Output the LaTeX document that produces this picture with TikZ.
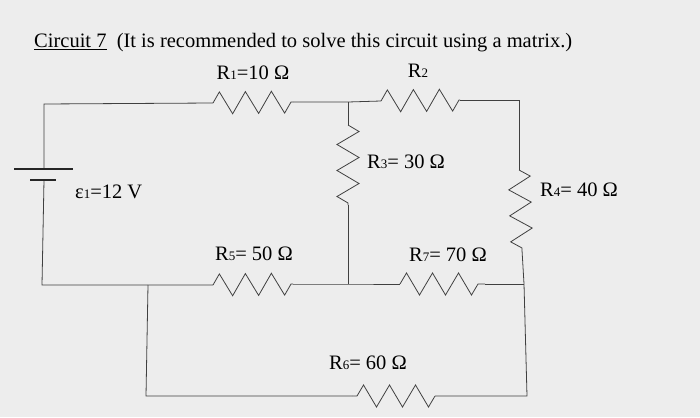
\documentclass[tikz,border=0pt]{standalone}
\usepackage{fontspec}
\setmainfont{Liberation Serif}
\usetikzlibrary{decorations.pathmorphing}
\begin{document}
\begin{tikzpicture}[x=1pt,y=-1pt,
  wire/.style={draw=black!75,line width=0.8pt},
  res/.style={wire,decorate,decoration={zigzag,segment length=26pt,amplitude=11pt}},
  lbl/.style={font=\fontsize{20.5}{22}\selectfont,inner sep=0pt},
  plate/.style={draw=black!85,line width=2.2pt}]
\fill[gray!14] (0,0) rectangle (700,417);
\useasboundingbox (0,0) rectangle (700,417);
% coordinates
\coordinate (tl) at (44,104); \coordinate (r1a) at (213,103); \coordinate (r1b) at (293,102);
\coordinate (jt) at (348,102); \coordinate (r2a) at (381,101); \coordinate (r2b) at (460,100);
\coordinate (tr) at (519,100); \coordinate (r4a) at (519,170); \coordinate (r4b) at (522,250);
\coordinate (mr) at (524,284); \coordinate (br) at (527,396);
\coordinate (bt) at (44,169); \coordinate (bb) at (44,180); \coordinate (bl) at (42,285);
\coordinate (r5a) at (213,285); \coordinate (r5b) at (293,284); \coordinate (jm) at (348,284);
\coordinate (r7a) at (400,284); \coordinate (r7b) at (485,284);
\coordinate (r3a) at (348,125); \coordinate (r3b) at (348,205);
\coordinate (lj) at (148,285); \coordinate (lb) at (146,396);
\coordinate (r6a) at (352,396); \coordinate (r6b) at (435,396);
% wires
\draw[wire] (bt) -- (tl) -- (r1a); \draw[res] (r1a) -- (r1b); \draw[wire] (r1b) -- (jt) -- (r2a);
\draw[res] (r2a) -- (r2b); \draw[wire] (r2b) -- (tr) -- (r4a); \draw[res] (r4a) -- (r4b);
\draw[wire] (r4b) -- (mr) -- (br) -- (r6b); \draw[res] (r6b) -- (r6a); \draw[wire] (r6a) -- (lb) -- (lj);
\draw[wire] (bb) -- (bl) -- (r5a); \draw[res] (r5a) -- (r5b); \draw[wire] (r5b) -- (jm) -- (r7a);
\draw[res] (r7a) -- (r7b); \draw[wire] (r7b) -- (mr);
\draw[wire] (jt) -- (r3a); \draw[res] (r3a) -- (r3b); \draw[wire] (r3b) -- (jm);
\draw[plate] (14,169) -- (73,169); \draw[plate] (30,180) -- (56,180);
% labels
\node[lbl,anchor=west] (title) at (34,43) {\underline{Circuit 7}\ \ (It is recommended to solve this circuit using a matrix.)};
\newcommand{\sbs}[1]{{\fontsize{13}{14}\selectfont #1}}
\node[lbl] (l1) at (253,73) {R\sbs{1}=10 Ω};
\node[lbl] (l2) at (418,71) {R\sbs{2}};
\node[lbl,anchor=west] (l3) at (367,162) {R\sbs{3}= 30 Ω};
\node[lbl,anchor=west] (le) at (75,192) {ε\sbs{1}=12 V};
\node[lbl,anchor=west] (l4) at (540,190) {R\sbs{4}= 40 Ω};
\node[lbl] (l5) at (254,254) {R\sbs{5}= 50 Ω};
\node[lbl] (l7) at (448,255) {R\sbs{7}= 70 Ω};
\node[lbl] (l6) at (368,363) {R\sbs{6}= 60 Ω};
\end{tikzpicture}
\end{document}
